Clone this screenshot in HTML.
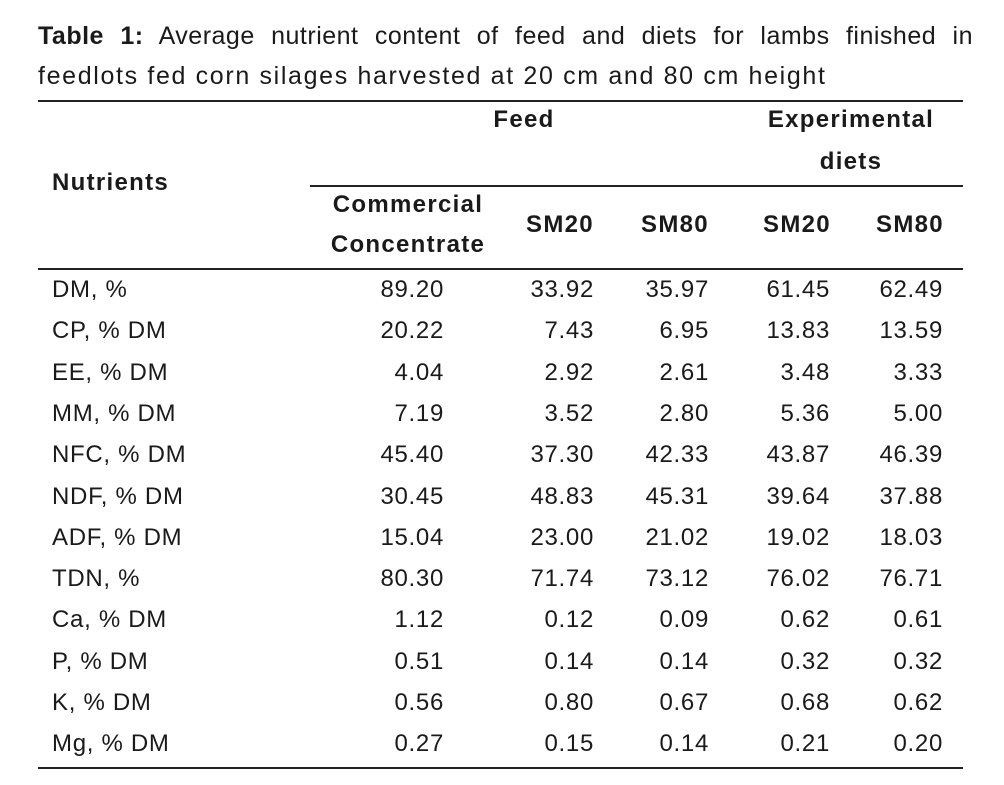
<!DOCTYPE html>
<html><head><meta charset="utf-8"><style>
body{margin:0;background:#fff;width:1004px;height:785px;position:relative;font-family:"Liberation Sans",sans-serif;color:#1a1a1a;overflow:hidden}
.t{position:absolute;font-size:24px;line-height:28px;white-space:nowrap;letter-spacing:0.7px}
.b{font-weight:bold;letter-spacing:1.3px}
.r{text-align:right}
.c{text-align:center}
.rule{position:absolute;height:1.5px;background:#222}
</style></head><body>
<div class="t" style="left:38px;top:22px;width:935px;text-align:justify;text-align-last:justify;font-size:25px;letter-spacing:0.5px"><b>Table 1:</b> Average nutrient content of feed and diets for lambs finished in</div>
<div class="t" style="left:38px;top:62px;font-size:25px;letter-spacing:1.65px">feedlots fed corn silages harvested at 20 cm and 80 cm height</div>
<div class="rule" style="left:38px;top:100px;width:925px"></div>
<div class="t b c" style="left:424px;top:106px;width:200px">Feed</div>
<div class="t b c" style="left:741px;top:106px;width:220px">Experimental</div>
<div class="t b c" style="left:751px;top:148px;width:200px">diets</div>
<div class="t b" style="left:52px;top:169px">Nutrients</div>
<div class="rule" style="left:310px;top:185px;width:653px"></div>
<div class="t b c" style="left:298px;top:191px;width:220px">Commercial</div>
<div class="t b c" style="left:298px;top:231px;width:220px">Concentrate</div>
<div class="t b c" style="left:500px;top:211px;width:120px">SM20</div>
<div class="t b c" style="left:615px;top:211px;width:120px">SM80</div>
<div class="t b c" style="left:737px;top:211px;width:120px">SM20</div>
<div class="t b c" style="left:850px;top:211px;width:120px">SM80</div>
<div class="rule" style="left:38px;top:268px;width:925px"></div>
<div id="rows"></div>
<div class="rule" style="left:38px;top:767px;width:925px"></div>
<script>
var d=[["DM, %","89.20","33.92","35.97","61.45","62.49"],["CP, % DM","20.22","7.43","6.95","13.83","13.59"],["EE, % DM","4.04","2.92","2.61","3.48","3.33"],["MM, % DM","7.19","3.52","2.80","5.36","5.00"],["NFC, % DM","45.40","37.30","42.33","43.87","46.39"],["NDF, % DM","30.45","48.83","45.31","39.64","37.88"],["ADF, % DM","15.04","23.00","21.02","19.02","18.03"],["TDN, %","80.30","71.74","73.12","76.02","76.71"],["Ca, % DM","1.12","0.12","0.09","0.62","0.61"],["P, % DM","0.51","0.14","0.14","0.32","0.32"],["K, % DM","0.56","0.80","0.67","0.68","0.62"],["Mg, % DM","0.27","0.15","0.14","0.21","0.20"]];
var rx=[444,594,709,830,943],h="";
d.forEach(function(r,i){var y=276+i*41.3;h+='<div class="t" style="left:52px;top:'+y+'px">'+r[0]+'</div>';for(var j=1;j<6;j++)h+='<div class="t r" style="left:'+(rx[j-1]-150)+'px;width:150px;top:'+y+'px">'+r[j]+'</div>';});
document.getElementById("rows").innerHTML=h;
</script>
</body></html>
